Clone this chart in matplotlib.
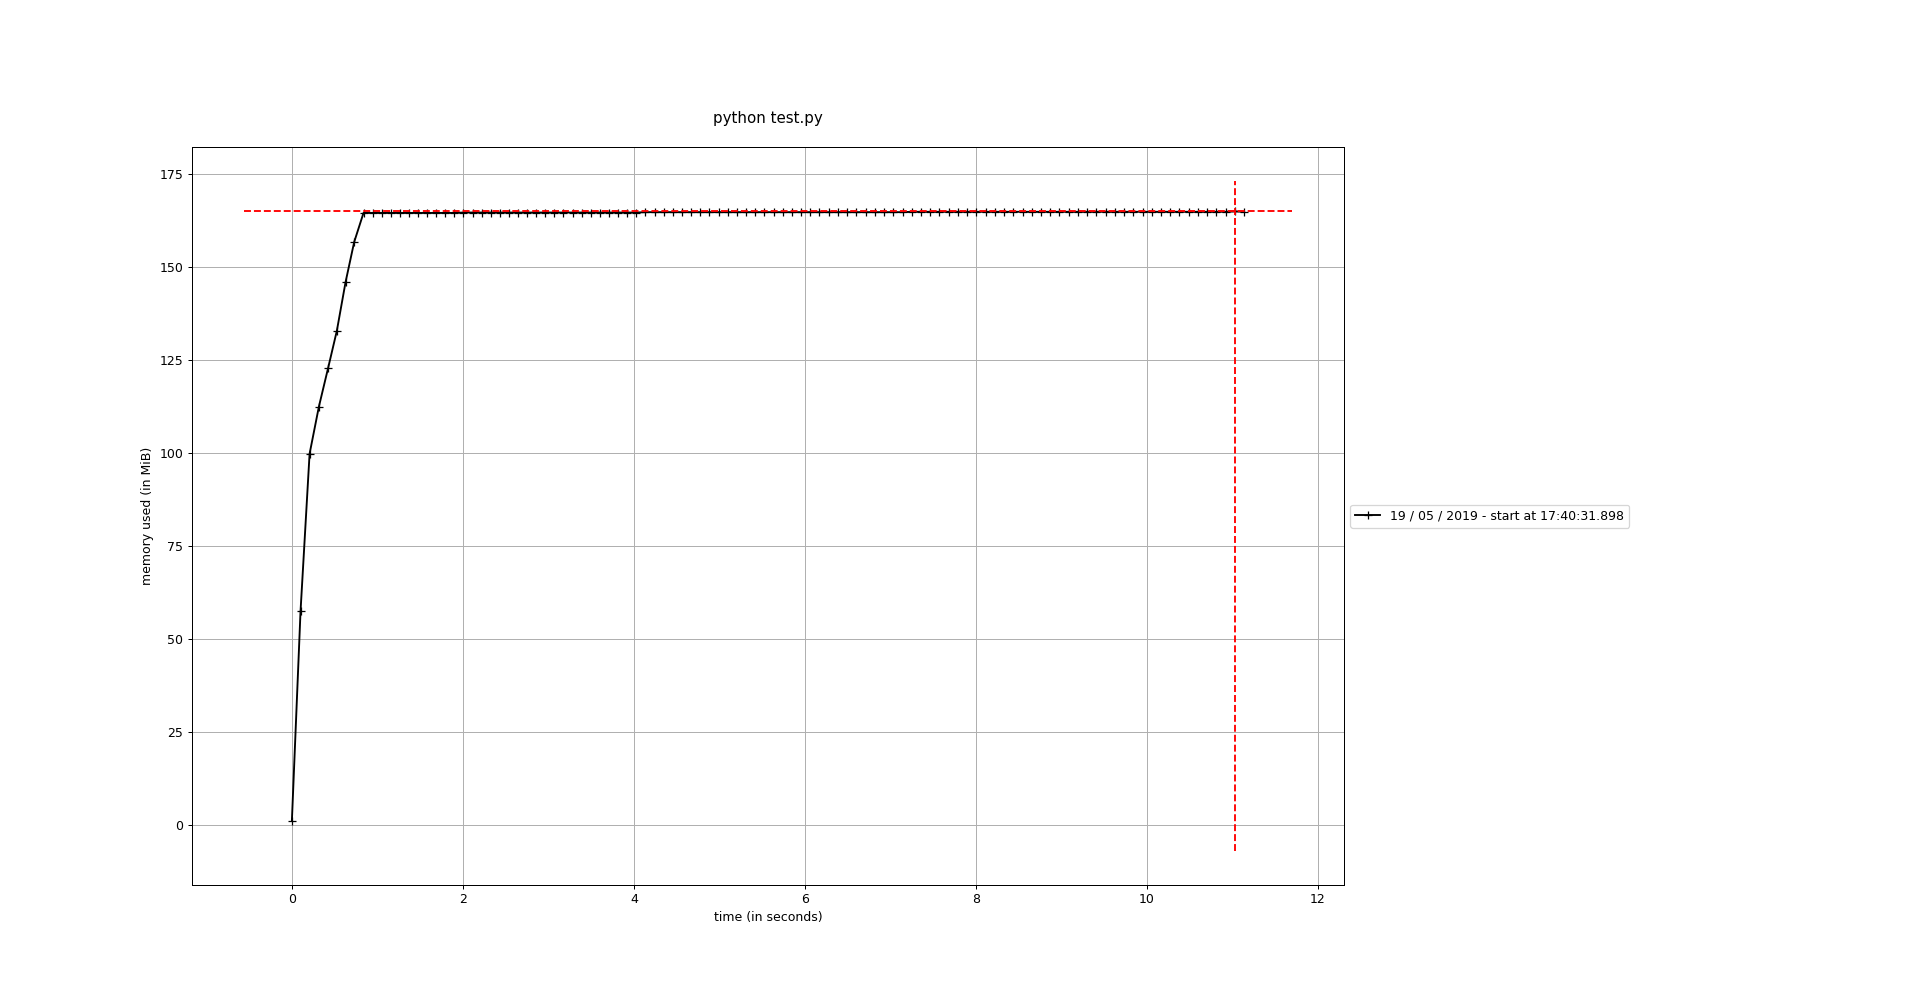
import matplotlib
matplotlib.use("Agg")
import matplotlib.pyplot as plt

title = "python test.py"
label = "19 / 05 / 2019 - start at 17:40:31.898"

# sample times (s)
t = [0.0, 0.101, 0.207, 0.316, 0.425, 0.526, 0.628, 0.729, 0.838,
     0.944, 1.051, 1.157, 1.263, 1.369, 1.476, 1.582, 1.688, 1.795, 1.901,
     2.007, 2.114, 2.220, 2.326, 2.433, 2.539, 2.645, 2.751, 2.858, 2.964,
     3.070, 3.177, 3.283, 3.389, 3.496, 3.602, 3.708, 3.815, 3.921, 4.028,
     4.135, 4.242, 4.349, 4.456, 4.563, 4.670, 4.777, 4.885, 4.992, 5.099,
     5.206, 5.313, 5.420, 5.527, 5.634, 5.741, 5.849, 5.956, 6.063,
     6.171, 6.279, 6.387, 6.495, 6.603, 6.711, 6.819, 6.927, 7.035, 7.143,
     7.251, 7.359, 7.467, 7.575, 7.683, 7.791, 7.899, 8.007, 8.115, 8.223,
     8.331, 8.439, 8.547, 8.655, 8.763, 8.871, 8.979, 9.087, 9.195, 9.303,
     9.411, 9.519, 9.627, 9.735, 9.843, 9.951, 10.059, 10.167, 10.275,
     10.383, 10.491, 10.599, 10.707, 10.815, 10.923, 11.031, 11.139]

# memory used (MiB)
mem = [1.1, 57.4, 99.8, 112.5, 123.0, 132.9, 146.0, 156.8, 164.6,
       164.6, 164.6, 164.6, 164.6, 164.6, 164.6, 164.6, 164.6, 164.6, 164.6,
       164.7, 164.7, 164.7, 164.7, 164.7, 164.7, 164.7, 164.7, 164.7, 164.7,
       164.7, 164.7, 164.7, 164.7, 164.7, 164.7, 164.7, 164.7, 164.7, 164.7,
       164.8, 164.8, 164.8, 164.8, 164.8, 164.8, 164.8, 164.8, 164.8, 164.8,
       164.8, 164.8, 164.8, 164.8, 164.8, 164.8, 164.8, 164.8, 164.8,
       164.8, 164.8, 164.8, 164.8, 164.8, 164.8, 164.8, 164.8, 164.8, 164.8,
       164.9, 164.9, 164.9, 164.9, 164.9, 164.9, 164.9, 164.9, 164.9, 164.9,
       164.9, 164.9, 164.9, 164.9, 164.9, 164.9, 164.9, 164.9, 164.9, 164.9,
       164.9, 164.9, 164.9, 164.9, 164.9, 164.9, 164.9, 164.9, 164.9,
       164.9, 164.9, 164.9, 164.9, 164.9, 164.9, 165.0, 164.9]

fig = plt.figure(figsize=(1920 / 90, 983 / 90), dpi=90)
ax = fig.add_axes([0.1, 0.1, 0.6, 0.75])

ax.plot(t, mem, "+-k", label=label)

bottom, top = ax.get_ylim()
bottom += 0.001
top -= 0.001

max_mem = max(mem)
max_ind = mem.index(max_mem)
xmin, xmax = ax.get_xlim()
ax.hlines(max_mem, xmin + 0.001, xmax - 0.001, colors="r", linestyles="--")
ax.vlines(t[max_ind], bottom, top, colors="r", linestyles="--")

ax.set_xlabel("time (in seconds)")
ax.set_ylabel("memory used (in MiB)")
ax.set_title(title, pad=19.5)
ax.grid(True)
ax.legend(loc="center left", bbox_to_anchor=(1, 0.5))

fig.savefig("out.png", dpi=90)
